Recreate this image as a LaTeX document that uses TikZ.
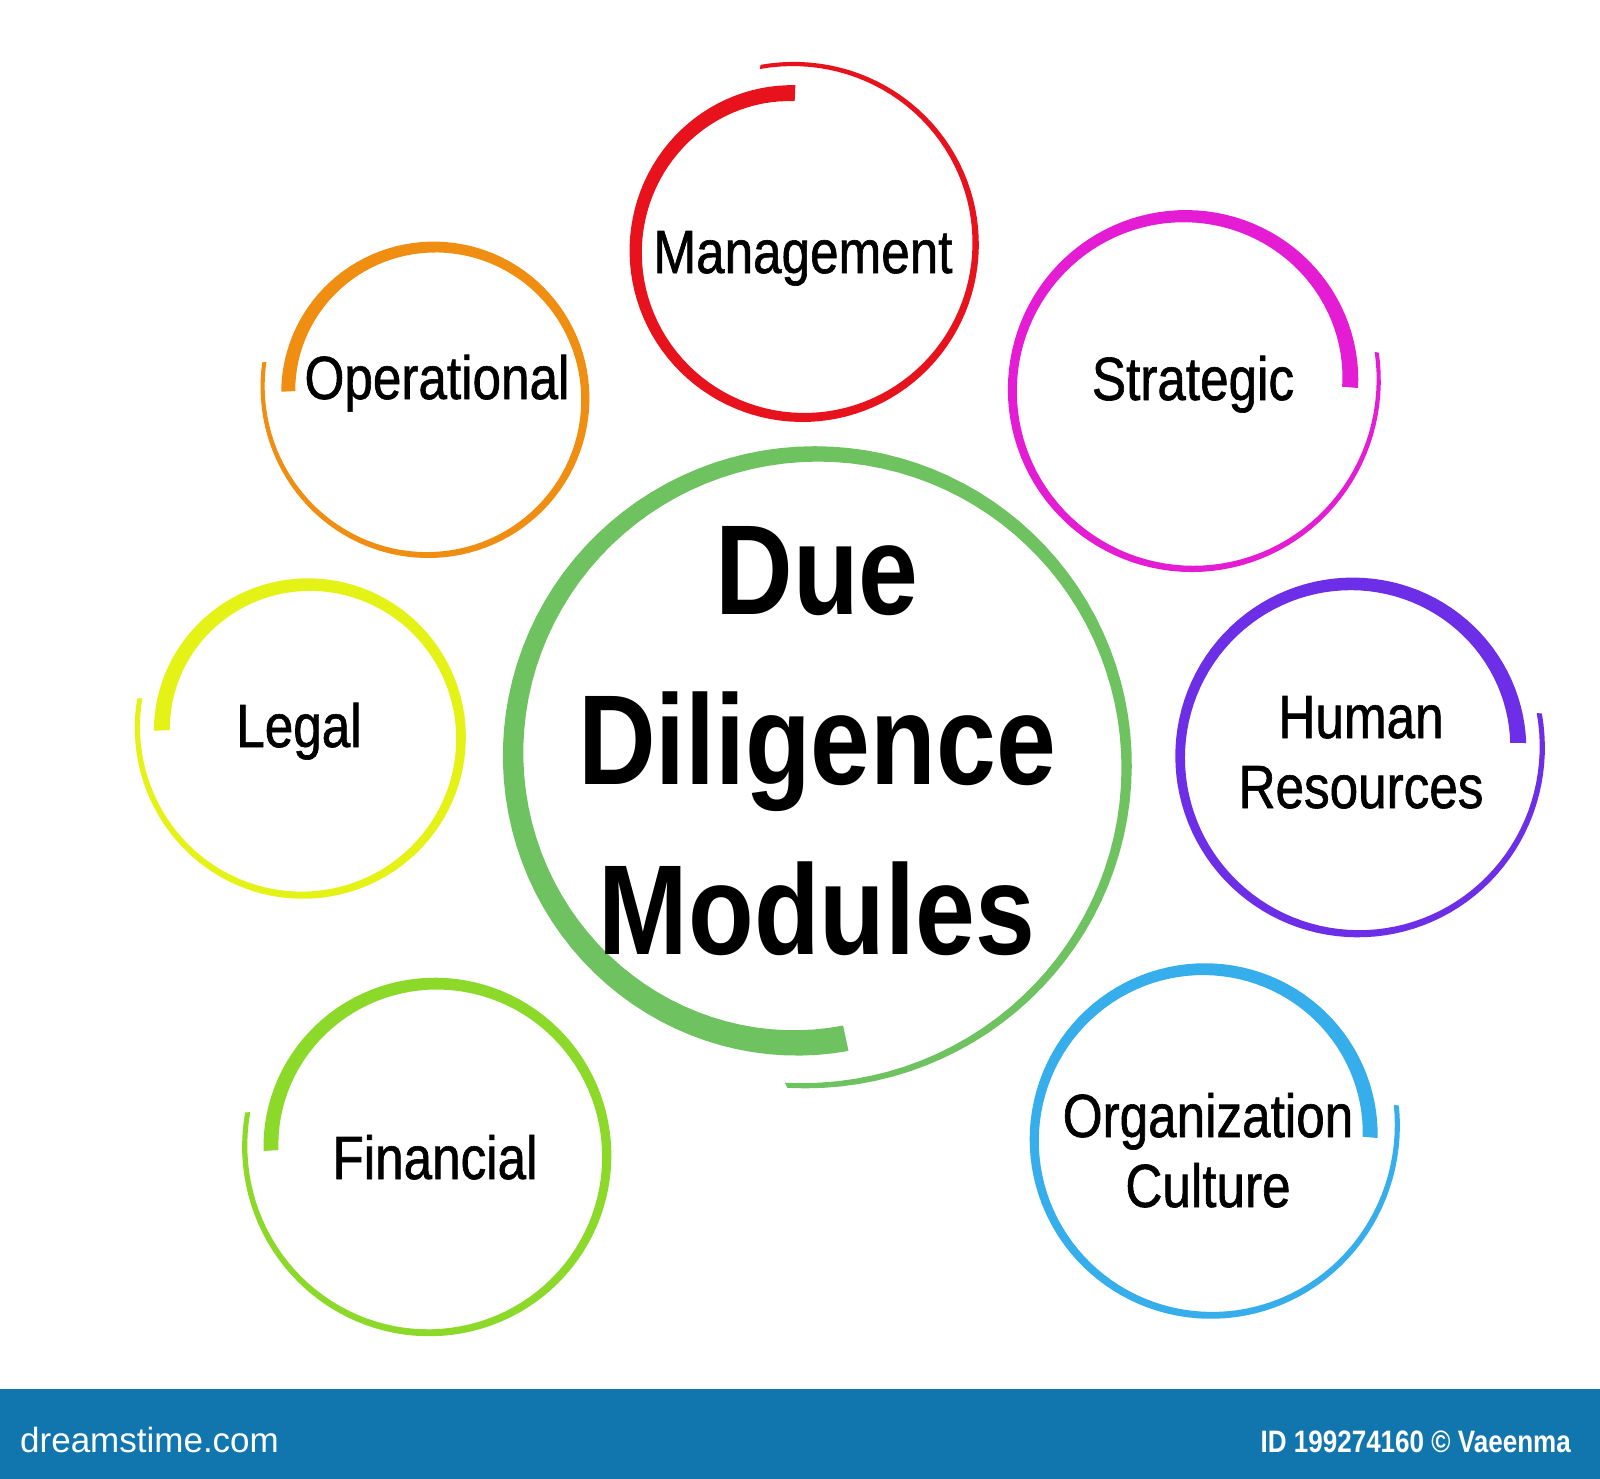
\documentclass[tikz,border=0pt]{standalone}
\usepackage{fontspec}
\setmainfont{Liberation Sans}[FakeStretch=0.84]
\newfontfamily\modfont{Liberation Sans}[FakeStretch=0.84, FakeBold=1]
\newfontfamily\logofont{Liberation Sans}
\usepackage{tikz}

\definecolor{mgmtred}{RGB}{232,18,28}
\definecolor{operorange}{RGB}{240,142,18}
\definecolor{legalyellow}{RGB}{228,242,22}
\definecolor{stratpink}{RGB}{228,28,212}
\definecolor{hrpurple}{RGB}{108,46,230}
\definecolor{finlime}{RGB}{140,217,42}
\definecolor{orgblue}{RGB}{54,174,235}
\definecolor{hubgreen}{RGB}{110,194,96}
\definecolor{bannerblue}{RGB}{17,118,174}

\tikzset{
  modtext/.style={font=\modfont\fontsize{61}{70}\selectfont, align=center, anchor=base, inner sep=0pt},
  hubtext/.style={font=\fontsize{128}{170}\selectfont\bfseries, align=center, anchor=base, inner sep=0pt},
  % colour, radius, start angle, sweep, start width, end width, inner drift, outer drift, taper
  pics/ring/.style n args={9}{code={
    \fill[#1] plot[domain=0:1,samples=120,variable=\t]
      ({#3+(#4)*\t}:{#2*(1-#7*((1-\t)*(1-\t))*((1-\t)*(1-\t))+#8*(\t*\t)*(\t*\t))+0.5*(#6+(#5-#6)*(1-\t)*(1-#9*\t))})
      -- plot[domain=1:0,samples=120,variable=\t]
      ({#3+(#4)*\t}:{#2*(1-#7*((1-\t)*(1-\t))*((1-\t)*(1-\t))+#8*(\t*\t)*(\t*\t))-0.5*(#6+(#5-#6)*(1-\t)*(1-#9*\t))})
      -- cycle;
  }}
}

\begin{document}
\begin{tikzpicture}[x=1pt,y=1pt]
  \useasboundingbox (0,-1479) rectangle (1600,0);
  \fill[white] (0,-1479) rectangle (1600,0);

  % rings
  \pic at (801,-247)  {ring={mgmtred}{171}{92}{371}{16}{4}{0.10}{0.08}{0.4}};
  \pic at (432,-397)  {ring={operorange}{153}{178}{-370}{14}{4}{0.06}{0.12}{0.4}};
  \pic at (306,-736)  {ring={legalyellow}{155}{178}{-371}{16}{5}{0.07}{0.10}{0.4}};
  \pic at (1189,-388) {ring={stratpink}{177}{0}{371}{16}{4}{0.09}{0.08}{0.4}};
  \pic at (1355,-755) {ring={hrpurple}{175}{4}{369}{16}{5}{0.065}{0.08}{0.4}};
  \pic at (432,-1154) {ring={finlime}{175}{179}{-372}{15}{5}{0.08}{0.08}{0.4}};
  \pic at (1206,-1138){ring={orgblue}{171}{0}{370}{15}{5}{0.04}{0.13}{0.4}};
  \pic at (813,-762)  {ring={hubgreen}{309}{277}{-372}{26}{5}{0.10}{0.05}{0}};

  % labels (base = last line)
  \node[modtext] (mgmt) at (803,-273) {Management};
  \node[modtext] (oper) at (437,-399) {Operational};
  \node[modtext] (strat) at (1193,-400) {Strategic};
  \node[modtext] (legal) at (299,-747) {Legal};
  \node[modtext] (hr) at (1361,-808) {Human\\Resources};
  \node[modtext] (fin) at (435,-1179) {Financial};
  \node[modtext] (org) at (1208,-1207) {Organization\\Culture};
  \node[hubtext] (hub) at (817,-954) {Due\\Diligence\\Modules};

  % banner
  \fill[bannerblue] (0,-1389) rectangle (1600,-1479);
  \node[font=\logofont\fontsize{35}{35}\selectfont, text=white, anchor=base west, inner sep=0pt] (logo) at (20,-1452) {dreamstime.com};
  \node[font=\fontsize{31}{31}\selectfont\bfseries, text=white, anchor=base east, inner sep=0pt] (imgid) at (1571,-1452) {ID 199274160 © Vaeenma};
\end{tikzpicture}
\end{document}
